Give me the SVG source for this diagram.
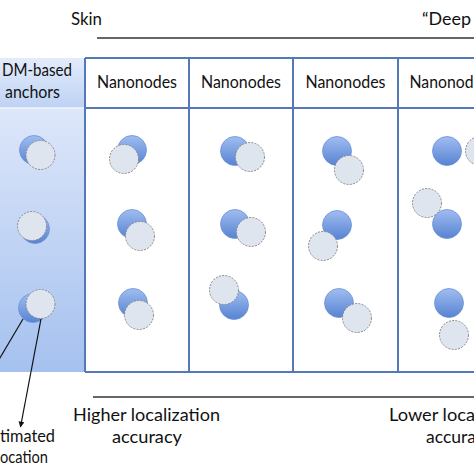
<svg xmlns="http://www.w3.org/2000/svg" width="474" height="474" viewBox="0 0 474 474">
<defs>
<linearGradient id="gBody" x1="0" y1="0" x2="0" y2="1">
<stop offset="0" stop-color="#dde7fa"/>
<stop offset="1" stop-color="#a5c1ef"/>
</linearGradient>
<linearGradient id="gHead" x1="0" y1="0" x2="0" y2="1">
<stop offset="0" stop-color="#e3ecfc"/>
<stop offset="1" stop-color="#bed2f4"/>
</linearGradient>
<linearGradient id="gBlue" x1="0" y1="0" x2="0" y2="1">
<stop offset="0" stop-color="#a0bdf0"/>
<stop offset="1" stop-color="#5783d2"/>
</linearGradient>
<marker id="arr" viewBox="0 0 10 10" refX="9" refY="5" markerWidth="6" markerHeight="6" orient="auto-start-reverse" markerUnits="userSpaceOnUse">
<path d="M0,0 L10,5 L0,10 z" fill="#111"/>
</marker>
<style>
.t{font-family:Lato,"Open Sans","DejaVu Sans",sans-serif;fill:#111;font-size:17px}
.grid{stroke:#5579b6;stroke-width:2;fill:none}
.rule{stroke:#333;stroke-width:1.5}
.b{fill:url(#gBlue);stroke:#6d93d5;stroke-width:0.8}
.g{fill:#dfe5ef;stroke:#8a8a8a;stroke-width:1;stroke-dasharray:2 1.3}
.c{stroke:#111;stroke-width:1.2;fill:none}
</style>
</defs>
<rect width="474" height="474" fill="#fff"/>

<g id="labels">
<text class="t" x="71" y="25" textLength="31" lengthAdjust="spacingAndGlyphs">Skin</text>
<text class="t" x="422" y="25" textLength="49" lengthAdjust="spacingAndGlyphs">“Deep</text>
<line class="rule" x1="97" y1="38" x2="474" y2="38"/>
<line class="rule" x1="93" y1="397" x2="474" y2="397"/>
<text class="t" x="73" y="421" textLength="147" lengthAdjust="spacingAndGlyphs">Higher localization</text>
<text class="t" x="112" y="443" textLength="70" lengthAdjust="spacingAndGlyphs">accuracy</text>
<text class="t" x="389" y="421" textLength="86" lengthAdjust="spacingAndGlyphs">Lower loca</text>
<text class="t" x="426" y="443" textLength="50" lengthAdjust="spacingAndGlyphs">accura</text>
<text class="t" x="0" y="442" textLength="55" lengthAdjust="spacingAndGlyphs">timated</text>
<text class="t" x="0" y="463" textLength="48" lengthAdjust="spacingAndGlyphs">ocation</text>
</g>

<g id="table">
<rect x="0" y="58" width="85" height="50" fill="url(#gHead)"/>
<rect x="0" y="108" width="85" height="264" fill="url(#gBody)"/>
<line x1="0" y1="108" x2="85" y2="108" stroke="#f2f6fd" stroke-width="1.5"/>
<path class="grid" d="M85,58 H475 M85,108 H475 M85,372 H475 M85,58 V372 M189,58 V372 M293,58 V372 M398,58 V372"/>
<text class="t" x="2" y="76" textLength="70" lengthAdjust="spacingAndGlyphs">DM-based</text>
<text class="t" x="5" y="98" textLength="55" lengthAdjust="spacingAndGlyphs">anchors</text>
<text class="t" x="97" y="88" textLength="80" lengthAdjust="spacingAndGlyphs">Nanonodes</text>
<text class="t" x="201" y="88" textLength="80" lengthAdjust="spacingAndGlyphs">Nanonodes</text>
<text class="t" x="305.5" y="88" textLength="80" lengthAdjust="spacingAndGlyphs">Nanonodes</text>
<text class="t" x="409.5" y="88" textLength="64" lengthAdjust="spacingAndGlyphs">Nanonod</text>
</g>

<g id="anchor-1"><circle class="b" cx="34" cy="150" r="14.5"/><circle class="g" cx="40.5" cy="155" r="14.5"/></g>
<g id="anchor-2"><circle class="b" cx="35" cy="229" r="14.5"/><circle class="g" cx="32" cy="226" r="14.5"/></g>
<g id="anchor-3"><circle class="b" cx="33" cy="308" r="14.5"/><circle class="g" cx="40.5" cy="304" r="14.5"/></g>

<g id="col1-1"><circle class="b" cx="132" cy="150" r="14.5"/><circle class="g" cx="124" cy="159" r="14.5"/></g>
<g id="col1-2"><circle class="b" cx="132" cy="224" r="14.5"/><circle class="g" cx="140" cy="236" r="14.5"/></g>
<g id="col1-3"><circle class="b" cx="133" cy="303" r="14.5"/><circle class="g" cx="139" cy="315" r="14.5"/></g>

<g id="col2-1"><circle class="b" cx="235" cy="151" r="14.5"/><circle class="g" cx="250" cy="157" r="14.5"/></g>
<g id="col2-2"><circle class="b" cx="235" cy="224" r="14.5"/><circle class="g" cx="251" cy="232" r="14.5"/></g>
<g id="col2-3"><circle class="b" cx="234" cy="305" r="14.5"/><circle class="g" cx="224" cy="290" r="14.5"/></g>

<g id="col3-1"><circle class="b" cx="337" cy="151" r="14.5"/><circle class="g" cx="349" cy="170" r="14.5"/></g>
<g id="col3-2"><circle class="b" cx="337" cy="225" r="14.5"/><circle class="g" cx="323" cy="246" r="14.5"/></g>
<g id="col3-3"><circle class="b" cx="339" cy="303" r="14.5"/><circle class="g" cx="357" cy="318" r="14.5"/></g>

<g id="col4-1"><circle class="b" cx="447" cy="151" r="14.5"/><circle class="g" cx="480" cy="151" r="14.5"/></g>
<g id="col4-2"><circle class="b" cx="447" cy="224" r="14.5"/><circle class="g" cx="427" cy="203" r="14.5"/></g>
<g id="col4-3"><circle class="b" cx="449" cy="303" r="14.5"/><circle class="g" cx="454" cy="335" r="14.5"/></g>

<g id="connectors">
<line class="c" x1="23" y1="319" x2="-3" y2="363"/>
<line class="c" x1="41" y1="319" x2="20.5" y2="427" marker-end="url(#arr)"/>
</g>
</svg>
